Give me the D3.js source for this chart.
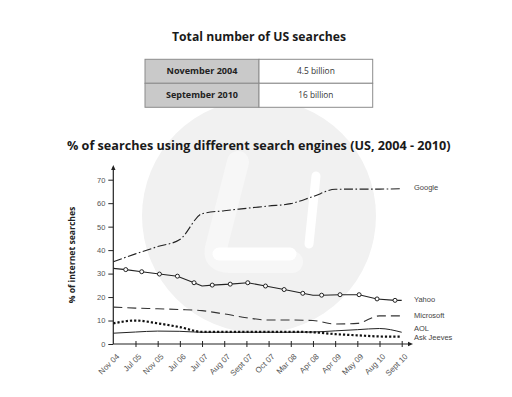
<!DOCTYPE html>
<html>
<head>
<meta charset="utf-8">
<script src="https://cdn.jsdelivr.net/npm/d3@7"></script>
<style>
  html, body { margin: 0; padding: 0; background: #fff; }
  svg { display: block; }
</style>
</head>
<body>
<div id="chart"></div>
<script>
// ---------- data ----------
const tableRows = ["November 2004", "September 2010"];
const tableValues = ["4.5 billion", "16 billion"];

const categories = ["Nov 04","Jul 05","Nov 05","Jul 06","Jul 07","Aug 07","Sept 07","Oct 07","Mar 08","Apr 08","Apr 09","May 09","Aug 10","Sept 10"];
const yTicks = [0, 10, 20, 30, 40, 50, 60, 70];

const google    = [35, 38.4, 41.5, 44.5, 55.5, 56.8, 57.8, 58.8, 59.8, 62.8, 65.9, 66, 66, 66.2];
const microsoft = [15.7, 15.3, 15.0, 14.7, 14.2, 12.8, 11.2, 10.2, 10.2, 10.0, 8.5, 8.8, 12.0, 12.0];
const askJeeves = [8.8, 10.0, 8.8, 7.2, 5.2, 5.2, 5.2, 5.2, 5.2, 5.0, 4.2, 3.7, 3.2, 3.1];
const aol       = [4.6, 5.1, 5.5, 5.4, 5.0, 5.0, 5.0, 5.0, 5.0, 5.1, 5.6, 6.1, 6.6, 5.0];

// Yahoo is sampled between the tick marks (position along the time axis, in tick units)
const yahooT      = [0, 0.56, 1.28, 2.08, 2.89, 3.64, 4.0, 4.46, 5.27, 6.06, 6.86, 7.70, 8.54, 9.0, 9.39, 10.22, 11.08, 11.89, 12.70, 13];
const yahooV      = [32.2, 31.7, 30.8, 29.8, 28.9, 26.1, 24.7, 25.1, 25.5, 26.1, 24.7, 23.2, 21.6, 20.8, 20.8, 21.0, 21.0, 19.2, 18.6, 18.6];
const yahooMarked = [0, 1, 1, 1, 1, 1, 0, 1, 1, 1, 1, 1, 1, 0, 1, 1, 1, 1, 1, 0];

const seriesNames = ["Google", "Yahoo", "Microsoft", "AOL", "Ask Jeeves"];

// ---------- drawing ----------
const W = 512, H = 397;
const svg = d3.select("#chart").append("svg").attr("width", W).attr("height", H);
const TITLE_FONT = "'Open Sans', 'Noto Sans', sans-serif";
const TEXT_FONT = "'Liberation Sans', Arial, sans-serif";

// watermark
const wm = svg.append("g");
wm.append("circle").attr("cx", 259).attr("cy", 216).attr("r", 117).attr("fill", "#f1f1f1");
wm.append("path")
  .attr("d", "M238,162 L216,248 Q213,262 230,262 L292,262")
  .attr("fill", "none").attr("stroke", "#f7f7f7").attr("stroke-width", 22)
  .attr("stroke-linecap", "round").attr("stroke-linejoin", "round");
wm.append("path")
  .attr("d", "M316,176 L309,244")
  .attr("fill", "none").attr("stroke", "#ffffff").attr("stroke-width", 9).attr("stroke-linecap", "round");
wm.append("path")
  .attr("d", "M219,254 L290,254")
  .attr("fill", "none").attr("stroke", "#ffffff").attr("stroke-width", 13).attr("stroke-linecap", "round");

function fitText(sel, width) {
  const n = sel.node();
  const fs = parseFloat(sel.attr("font-size"));
  const w = n.getComputedTextLength();
  sel.attr("font-size", (fs * width / w).toFixed(2));
}

// top title
const t1 = svg.append("text").attr("x", 259).attr("y", 41).attr("text-anchor", "middle")
  .attr("font-family", TITLE_FONT).attr("font-weight", 700).attr("font-size", 12)
  .attr("fill", "#1a1a1a").text("Total number of US searches");
fitText(t1, 174);

// table
const tbl = svg.append("g");
const tx0 = 145, tx1 = 259, tx2 = 372.7, ty0 = 59.3, rowH = 24;
const leftWidths = [71, 72], rightWidths = [38, 35];
tableRows.forEach((r, i) => {
  const y = ty0 + i * rowH;
  tbl.append("rect").attr("x", tx0).attr("y", y).attr("width", tx1 - tx0).attr("height", rowH)
    .attr("fill", "#c9c9c9").attr("stroke", "#8c8c8c").attr("stroke-width", 1);
  tbl.append("rect").attr("x", tx1).attr("y", y).attr("width", tx2 - tx1).attr("height", rowH)
    .attr("fill", "#ffffff").attr("stroke", "#8c8c8c").attr("stroke-width", 1);
  const a = tbl.append("text").attr("x", (tx0 + tx1) / 2).attr("y", y + rowH / 2).attr("dy", "0.35em")
    .attr("text-anchor", "middle").attr("font-family", TITLE_FONT).attr("font-weight", 700)
    .attr("font-size", 8.5).attr("fill", "#222").text(r);
  fitText(a, leftWidths[i]);
  const b = tbl.append("text").attr("x", (tx1 + tx2) / 2).attr("y", y + rowH / 2).attr("dy", "0.35em")
    .attr("text-anchor", "middle").attr("font-family", TITLE_FONT).attr("font-weight", 400)
    .attr("font-size", 8.5).attr("fill", "#333").text(tableValues[i]);
  fitText(b, rightWidths[i]);
});

// chart title
const t2 = svg.append("text").attr("x", 258.7).attr("y", 149.5).attr("text-anchor", "middle")
  .attr("font-family", TITLE_FONT).attr("font-weight", 700).attr("font-size", 13)
  .attr("fill", "#1a1a1a").text("% of searches using different search engines (US, 2004 - 2010)");
fitText(t2, 384);

// scales
const x = d3.scaleLinear().domain([0, categories.length - 1]).range([113.3, 401.7]);
const y = d3.scaleLinear().domain([0, 70]).range([344, 179.7]);
const axisColor = "#222";

// y axis
const yAxis = svg.append("g").attr("transform", `translate(${x(0)},0)`)
  .call(d3.axisLeft(y).tickValues(yTicks).tickSize(5).tickPadding(3));
yAxis.select(".domain").remove();
yAxis.selectAll(".tick line").attr("stroke", axisColor).attr("stroke-width", 1);
yAxis.selectAll(".tick text").attr("font-family", TEXT_FONT).attr("font-size", 7.5).attr("fill", "#555");
svg.append("line").attr("x1", x(0)).attr("x2", x(0)).attr("y1", y(0)).attr("y2", 167)
  .attr("stroke", axisColor).attr("stroke-width", 1.2);
svg.append("path").attr("d", `M${x(0)},165 L${x(0) - 2.2},170 L${x(0) + 2.2},170 Z`).attr("fill", axisColor);

// x axis
const xAxis = svg.append("g").attr("transform", `translate(0,${y(0)})`)
  .call(d3.axisBottom(x).tickValues(d3.range(categories.length)).tickFormat(i => categories[i]).tickSize(3).tickSizeOuter(0));
xAxis.select(".domain").remove();
xAxis.selectAll(".tick line").attr("y1", -3).attr("y2", 3).attr("stroke", axisColor).attr("stroke-width", 1);
xAxis.selectAll(".tick").filter(d => d === 0).select("line").remove();
xAxis.selectAll(".tick text")
  .attr("font-family", TEXT_FONT).attr("font-size", 8).attr("fill", "#555")
  .attr("text-anchor", "end").attr("x", 0).attr("y", 0).attr("dy", "0.35em")
  .attr("transform", "translate(4,11) rotate(-45)");
svg.append("line").attr("x1", x(0)).attr("x2", 410).attr("y1", y(0)).attr("y2", y(0))
  .attr("stroke", axisColor).attr("stroke-width", 1.2);
svg.append("path").attr("d", `M413,${y(0)} L408,${y(0) - 2.2} L408,${y(0) + 2.2} Z`).attr("fill", axisColor);

// y axis title
const yt = svg.append("text").attr("transform", "translate(74.5,255) rotate(-90)")
  .attr("text-anchor", "middle").attr("font-family", TITLE_FONT).attr("font-weight", 700)
  .attr("font-size", 8.6).attr("fill", "#222").text("% of internet searches");
fitText(yt, 97);

// lines
const lineIdx = d3.line().x((d, i) => x(i)).y(d => y(d)).curve(d3.curveMonotoneX);
const plot = svg.append("g");

plot.append("path").datum(aol).attr("d", lineIdx)
  .attr("fill", "none").attr("stroke", "#222").attr("stroke-width", 1);
plot.append("path").datum(microsoft).attr("d", lineIdx)
  .attr("fill", "none").attr("stroke", "#333").attr("stroke-width", 1.1).attr("stroke-dasharray", "9,5");
plot.append("path").datum(askJeeves).attr("d", lineIdx)
  .attr("fill", "none").attr("stroke", "#111").attr("stroke-width", 2.2).attr("stroke-dasharray", "2.2,2");
plot.append("path").datum(google).attr("d", lineIdx)
  .attr("fill", "none").attr("stroke", "#222").attr("stroke-width", 1.1).attr("stroke-dasharray", "9,2.5,1.6,2.5");

const yahooPts = yahooT.map((t, i) => ({ t, v: yahooV[i], m: yahooMarked[i] }));
plot.append("path").datum(yahooPts)
  .attr("d", d3.line().x(d => x(d.t)).y(d => y(d.v)))
  .attr("fill", "none").attr("stroke", "#222").attr("stroke-width", 1.1);
plot.selectAll(".ym").data(yahooPts.filter(d => d.m)).enter().append("circle")
  .attr("cx", d => x(d.t)).attr("cy", d => y(d.v)).attr("r", 2)
  .attr("fill", "#fff").attr("stroke", "#222").attr("stroke-width", 1);

// end labels
const endValues = [google[google.length - 1], yahooV[yahooV.length - 1], microsoft[microsoft.length - 1], aol[aol.length - 1], askJeeves[askJeeves.length - 1]];
const labelShift = { "AOL": -3.6, "Ask Jeeves": 0.6, "Google": -0.8, "Yahoo": -1, "Microsoft": 0 };
svg.append("g").selectAll("text").data(seriesNames).enter().append("text")
  .attr("x", 414).attr("y", (d, i) => y(endValues[i]) + labelShift[d]).attr("dy", "0.35em")
  .attr("font-family", TEXT_FONT).attr("font-size", 7.5).attr("fill", "#444").text(d => d);
</script>
</body>
</html>
